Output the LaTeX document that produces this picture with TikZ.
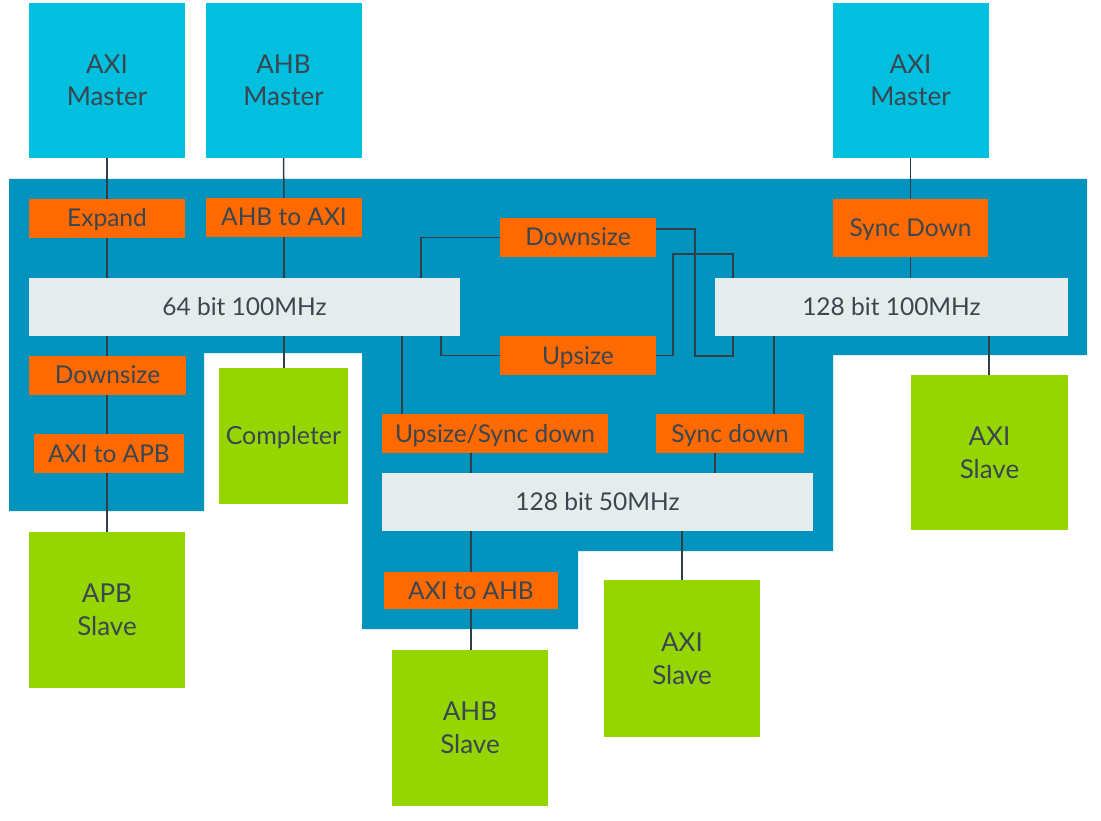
\documentclass[tikz,border=0pt]{standalone}
\usepackage{fontspec}
\setmainfont{Lato}
\definecolor{bgblue}{HTML}{0093BE}
\definecolor{mcyan}{HTML}{00BFDF}
\definecolor{sgreen}{HTML}{96D600}
\definecolor{orng}{HTML}{FF6A00}
\definecolor{lgray}{HTML}{E6EBEB}
\definecolor{txt}{HTML}{3A4650}
\definecolor{wire}{HTML}{2F3E48}
\begin{document}
\begin{tikzpicture}[x=1pt,y=-1pt,
  base/.style={inner sep=0pt,outer sep=0pt,draw=none,text=txt,align=center},
  oneline/.style={base,font=\fontsize{24.5}{31}\selectfont,text height=17.5pt,text depth=0.5pt},
  master/.style={base,fill=mcyan,minimum width=156pt,minimum height=155pt,font=\fontsize{26}{31.5}\selectfont},
  slave/.style={base,fill=sgreen,minimum width=156pt,minimum height=156pt,font=\fontsize{26}{33}\selectfont},
  conv/.style={oneline,fill=orng,minimum height=39pt},
  bus/.style={oneline,fill=lgray,minimum height=58pt},
  wireline/.style={draw=wire,line width=1.5pt}]
\useasboundingbox (0,0) rectangle (1101,821);
\fill[white] (0,0) rectangle (1101,821);
% interconnect background
\fill[bgblue] (9,179) -- (1087,179) -- (1087,355) -- (833,355) -- (833,551) -- (578,551)
  -- (578,629) -- (362,629) -- (362,353) -- (204,353) -- (204,511) -- (9,511) -- cycle;
% masters
\node[master] (m1) at (107,80.5) {AXI\\Master};
\node[master] (m2) at (283.5,80.5) {AHB\\Master};
\node[master] (m3) at (910.5,80.5) {AXI\\Master};
% converters
\node[conv,minimum width=156pt] (exp) at (107,218.5) {Expand};
\node[conv,minimum width=156pt] (a2x) at (284,217.5) {AHB to AXI};
\node[conv,minimum width=156pt] (dsz) at (578,237.5) {Downsize};
\node[conv,minimum width=156pt] (usz) at (578,355.5) {Upsize};
\node[conv,minimum width=155pt,minimum height=58pt] (syd) at (910.5,228) {Sync Down};
\node[conv,minimum width=157pt] (dsl) at (107.5,375) {Downsize};
\node[conv,minimum width=150pt] (apb) at (109,453.5) {AXI to APB};
\node[conv,minimum width=226pt] (usd) at (495,433.5) {Upsize/Sync down};
\node[conv,minimum width=148pt] (sdn) at (730,433.5) {Sync down};
\node[conv,minimum width=174pt,minimum height=37pt] (x2h) at (471,590.5) {AXI to AHB};
% buses
\node[bus,minimum width=431pt] (b64) at (244.5,307) {64 bit 100MHz};
\node[bus,minimum width=353pt] (b128) at (891.5,307) {128 bit 100MHz};
\node[bus,minimum width=431pt] (b50) at (597.5,502) {128 bit 50MHz};
% slaves / completer
\node[oneline,fill=sgreen,minimum width=129pt,minimum height=136pt,font=\fontsize{25}{31}\selectfont] (cmp) at (283.5,436) {Completer};
\node[slave] (apbs) at (107,610) {APB\\Slave};
\node[slave] (ahbs) at (470,727.5) {AHB\\Slave};
\node[slave,minimum width=156pt,minimum height=157pt] (axs1) at (682,658.5) {AXI\\Slave};
\node[slave,minimum width=157pt,minimum height=155pt] (axs2) at (989.5,452.5) {AXI\\Slave};
% helper x positions
\coordinate (x402) at (402,0);
\coordinate (x421) at (421,0);
\coordinate (x441) at (441,0);
\coordinate (x471) at (471,0);
\coordinate (x682) at (682,0);
\coordinate (x715) at (715,0);
\coordinate (x774) at (774,0);
\coordinate (x989) at (989,0);
\coordinate (x733) at (733,0);
\coordinate (y229) at (0,229);
% wires
\path[wireline] (m1.south) -- (exp.north);
\path[wireline] (exp.south) -- (exp.south |- b64.north);
\path[wireline] (b64.south -| exp.south) -- (dsl.north -| exp.south);
\path[wireline] (dsl.south -| exp.south) -- (apb.north -| exp.south);
\path[wireline] (apb.south -| exp.south) -- (apbs.north -| exp.south);
\path[wireline] (m2.south) -- (a2x.north);
\path[wireline] (a2x.south) -- (a2x.south |- b64.north);
\path[wireline] (b64.south -| a2x.south) -- (cmp.north -| a2x.south);
\path[wireline] (m3.south) -- (syd.north);
\path[wireline] (syd.south) -- (syd.south |- b128.north);
\path[wireline] (b128.south -| x989) -- (axs2.north -| x989);
\path[wireline] (b64.south -| x402) -- (usd.north -| x402);
% downsize path
\path[wireline] (b64.north -| x421) |- (dsz.west);
\path[wireline] (dsz.east |- y229) -- (695,229) -- (695,356) -| (b128.south -| x733);
% upsize path
\path[wireline] (b64.south -| x441) |- (usz.west);
\path[wireline] (usz.east) -- (673,355.5) -- (673,254) -| (b128.north -| x733);
% 128/100 to sync down
\path[wireline] (b128.south -| x774) -- (sdn.north -| x774);
\path[wireline] (usd.south -| x471) -- (b50.north -| x471);
\path[wireline] (sdn.south -| x715) -- (b50.north -| x715);
\path[wireline] (b50.south -| x471) -- (x2h.north -| x471);
\path[wireline] (x2h.south -| x471) -- (ahbs.north -| x471);
\path[wireline] (b50.south -| x682) -- (axs1.north -| x682);
\end{tikzpicture}
\end{document}
